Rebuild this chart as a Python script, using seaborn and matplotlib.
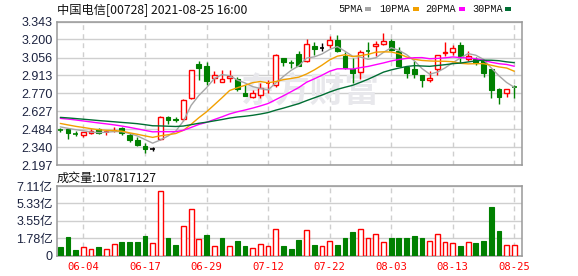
import numpy as np
import pandas as pd
import matplotlib
matplotlib.use("Agg")
import matplotlib.pyplot as plt
import seaborn as sns
from matplotlib.patches import Rectangle

# ---------------- data ----------------
dates = ["06-01", "06-02", "06-03", "06-04", "06-07", "06-08", "06-09", "06-10", "06-11", "06-15",
         "06-16", "06-17", "06-18", "06-21", "06-22", "06-23", "06-24", "06-25", "06-28", "06-29",
         "06-30", "07-02", "07-05", "07-06", "07-07", "07-08", "07-09", "07-12", "07-13", "07-14",
         "07-15", "07-16", "07-19", "07-20", "07-21", "07-22", "07-23", "07-26", "07-27", "07-28",
         "07-29", "07-30", "08-02", "08-03", "08-04", "08-05", "08-06", "08-09", "08-10", "08-11",
         "08-12", "08-13", "08-16", "08-17", "08-18", "08-19", "08-20", "08-23", "08-24", "08-25"]

open_ = [2.480, 2.484, 2.452, 2.436, 2.452, 2.484, 2.462, 2.470, 2.494, 2.438,
         2.401, 2.353, 2.327, 2.409, 2.579, 2.562, 2.562, 2.730, 3.008, 2.988,
         2.896, 2.864, 2.890, 2.882, 2.774, 2.743, 2.754, 2.850, 2.836, 3.049,
         3.017, 3.083, 3.030, 3.149, 3.130, 3.157, 3.195, 3.071, 2.961, 2.937,
         3.110, 3.151, 3.160, 3.191, 3.111, 2.982, 2.964, 2.916, 2.876, 2.961,
         3.094, 3.101, 3.155, 3.047, 3.041, 3.035, 2.964, 2.804, 2.770, 2.823]
close = [2.476, 2.452, 2.447, 2.460, 2.473, 2.457, 2.466, 2.473, 2.457, 2.398,
         2.361, 2.324, 2.327, 2.584, 2.558, 2.555, 2.721, 2.956, 2.976, 2.868,
         2.916, 2.884, 2.912, 2.804, 2.751, 2.770, 2.810, 2.856, 3.075, 3.017,
         3.011, 2.990, 3.161, 3.127, 3.130, 3.192, 3.107, 2.972, 2.929, 3.097,
         3.104, 3.167, 3.187, 3.115, 2.992, 2.934, 2.924, 2.876, 2.890, 3.075,
         3.100, 3.135, 3.057, 3.070, 3.009, 2.934, 2.797, 2.743, 2.802, 2.818]
high = [2.496, 2.492, 2.473, 2.460, 2.484, 2.496, 2.478, 2.502, 2.504, 2.452,
        2.420, 2.372, 2.343, 2.590, 2.593, 2.580, 2.724, 2.958, 3.027, 3.019,
        2.952, 2.960, 2.956, 2.900, 2.836, 2.797, 2.855, 2.876, 3.083, 3.049,
        3.038, 3.109, 3.201, 3.181, 3.172, 3.228, 3.232, 3.103, 3.051, 3.113,
        3.179, 3.191, 3.250, 3.200, 3.141, 2.990, 3.030, 2.916, 2.950, 3.075,
        3.176, 3.155, 3.176, 3.111, 3.062, 3.035, 2.964, 2.815, 2.802, 2.836]
low = [2.460, 2.409, 2.433, 2.422, 2.444, 2.444, 2.436, 2.465, 2.436, 2.383,
       2.351, 2.297, 2.311, 2.400, 2.526, 2.540, 2.550, 2.728, 2.876, 2.836,
       2.856, 2.863, 2.860, 2.786, 2.751, 2.730, 2.730, 2.775, 2.823, 2.990,
       2.974, 2.990, 3.022, 3.075, 3.109, 3.131, 3.099, 2.964, 2.852, 2.888,
       3.063, 3.067, 3.155, 3.109, 2.992, 2.894, 2.894, 2.818, 2.858, 2.916,
       3.070, 3.075, 3.011, 3.030, 2.999, 2.902, 2.735, 2.685, 2.743, 2.735]
# volume in 亿 shares
volume = [0.89, 1.94, 0.61, 0.89, 0.71, 0.82, 0.71, 1.19, 1.33, 1.43,
          1.43, 2.04, 1.23, 6.60, 1.74, 1.12, 3.03, 4.77, 1.70, 2.14,
          0.99, 1.74, 0.99, 1.53, 1.02, 0.79, 1.19, 0.99, 2.72, 1.02,
          0.71, 1.63, 2.62, 1.12, 0.99, 1.53, 1.12, 1.84, 2.45, 2.72,
          1.81, 2.25, 1.33, 1.74, 1.74, 1.84, 2.04, 1.74, 1.53, 2.25,
          1.33, 1.23, 1.02, 1.43, 1.23, 1.53, 5.00, 2.55, 1.12, 1.078]
# closes before the window (estimated so the moving averages start where shown)
history_close = [2.58, 2.60, 2.62, 2.63, 2.62, 2.61, 2.62, 2.61, 2.54, 2.52,
                 2.56, 2.59, 2.62, 2.63, 2.62, 2.61, 2.63, 2.645, 2.61, 2.595,
                 2.57, 2.56, 2.55, 2.57, 2.54, 2.51, 2.50, 2.502, 2.528]

price_ticks = [2.197, 2.340, 2.484, 2.627, 2.770, 2.913, 3.056, 3.200, 3.343]
price_labels = ["2.197", "2.340", "2.484", "2.627", "2.770", "2.913", "3.056", "3.200", "3.343"]
vol_ticks = [0, 1.78, 3.55, 5.33, 7.11]
vol_labels = ["0", "1.78亿", "3.55亿", "5.33亿", "7.11亿"]
title = "中国电信[00728] 2021-08-25 16:00"
vol_title = "成交量:107817127"
ma_names = ["5PMA", "10PMA", "20PMA", "30PMA"]
ma_windows = [5, 10, 20, 30]
ma_colors = ["#a6a6a6", "#f2a000", "#ff00ff", "#006e33"]

# ---------------- styling ----------------
sns.set_style("white")
plt.rcParams["font.family"] = ["Liberation Sans", "Noto Sans CJK SC", "DejaVu Sans"]

RED = "#ff0000"
GREEN = "#008000"
GRID = "#cfcfcf"
SPINE = "#999999"
LABEL = "#1c2340"

W, H = 578, 276
fig = plt.figure(figsize=(W / 100, H / 100), dpi=100)


def rect(l, t, r, b):
    return [l / W, 1 - b / H, (r - l) / W, (b - t) / H]


ax = fig.add_axes(rect(57, 21.5, 522, 165.3))
axv = fig.add_axes(rect(57, 186, 522, 255.5))

n = len(dates)
x = np.arange(n)
o = np.array(open_)
c = np.array(close)
hi = np.array(high)
lo = np.array(low)

all_close = pd.Series(history_close + close)
ma_df = pd.DataFrame({"x": x})
for name, w in zip(ma_names, ma_windows):
    ma_df[name] = all_close.rolling(w).mean().values[len(history_close):]

# candle colours
cand_col = []
for oo, cc in zip(o, c):
    if cc > oo + 1e-9:
        cand_col.append(RED)
    elif cc < oo - 1e-9:
        cand_col.append(GREEN)
    else:
        cand_col.append("#000000")

bw = 0.62
ax.vlines(x, lo, hi, colors=cand_col, lw=1.0, zorder=2)
for i in range(n):
    bottom = min(o[i], c[i])
    height = abs(c[i] - o[i])
    col = cand_col[i]
    if height < 0.006:
        mid = (o[i] + c[i]) / 2
        ax.hlines(mid, x[i] - bw / 2, x[i] + bw / 2, colors=col, lw=1.2, zorder=3)
    elif col == RED:
        ax.add_patch(Rectangle((x[i] - bw / 2, bottom), bw, height, facecolor="white",
                               edgecolor=RED, lw=1.0, zorder=3))
    else:
        ax.add_patch(Rectangle((x[i] - bw / 2, bottom), bw, height, facecolor=col,
                               edgecolor=col, lw=0.8, zorder=3))

for name, colr in zip(ma_names, ma_colors):
    sns.lineplot(data=ma_df, x="x", y=name, ax=ax, color=colr, lw=1.0, zorder=4, legend=False)

# volume bars (colour by close vs previous close)
vol_col = [GREEN]
for i in range(1, n):
    vol_col.append(RED if c[i] >= c[i - 1] else GREEN)
for i in range(n):
    if vol_col[i] == RED:
        axv.bar(x[i], volume[i], width=bw, facecolor="white", edgecolor=RED, lw=1.0, zorder=3)
    else:
        axv.bar(x[i], volume[i], width=bw, facecolor=GREEN, edgecolor=GREEN, lw=0.8, zorder=3)

tick_idx = list(range(3, n, 8))
for a in (ax, axv):
    a.set_xlim(-0.43, 60.0)
    a.set_xticks(tick_idx)
    a.grid(False)
    a.xaxis.grid(True, color=GRID, lw=1.0, ls=(0, (3.5, 3)), zorder=0)
    a.yaxis.grid(True, color=GRID, lw=1.0, zorder=0)
    a.set_axisbelow(True)
    for s in a.spines.values():
        s.set_color(SPINE)
        s.set_linewidth(1.1)
        s.set_visible(True)
    a.tick_params(length=0, pad=3)
    a.set_xlabel("")
    a.set_ylabel("")

ax.set_ylim(price_ticks[0], price_ticks[-1])
ax.set_yticks(price_ticks)
ax.set_yticklabels(price_labels, fontsize=9, color=LABEL)
ax.set_xticklabels([])

axv.set_ylim(0, 7.11)
axv.set_yticks(vol_ticks)
axv.set_yticklabels(vol_labels, fontsize=9, color=LABEL)
axv.set_xticklabels([dates[i] for i in tick_idx], fontsize=7.6, color=RED,
                    family="DejaVu Sans Mono")
axv.tick_params(axis="x", pad=5)

# watermark
ax.text(0.545, 0.52, "东方财富", transform=ax.transAxes, fontsize=25, color="#e8e8ec",
        fontweight="bold", family=["Noto Sans CJK SC"], ha="center", va="center", zorder=1)

# texts
fig.text(57 / W, 1 - 9.5 / H, title, fontsize=8.8, family=["Noto Sans CJK SC", "DejaVu Sans"],
         va="center", ha="left", color="#111111")
fig.text(57 / W, 1 - 178 / H, vol_title, fontsize=8.7, family=["Noto Sans CJK SC", "DejaVu Sans"],
         va="center", ha="left", color="#111111")

leg_text_x = [338, 379, 425, 472]
leg_sq_x = [365, 413, 459, 505]
for name, colr, tx, sx in zip(ma_names, ma_colors, leg_text_x, leg_sq_x):
    fig.text(tx / W, 1 - 9 / H, name, fontsize=7.3, family="Liberation Mono",
             va="center", ha="left", color="#111111")
    fig.patches.append(Rectangle((sx / W, 1 - 10.5 / H), 6 / W, 3.5 / H, facecolor=colr,
                                 edgecolor="none", transform=fig.transFigure, figure=fig))

fig.savefig("out.png", dpi=100)
